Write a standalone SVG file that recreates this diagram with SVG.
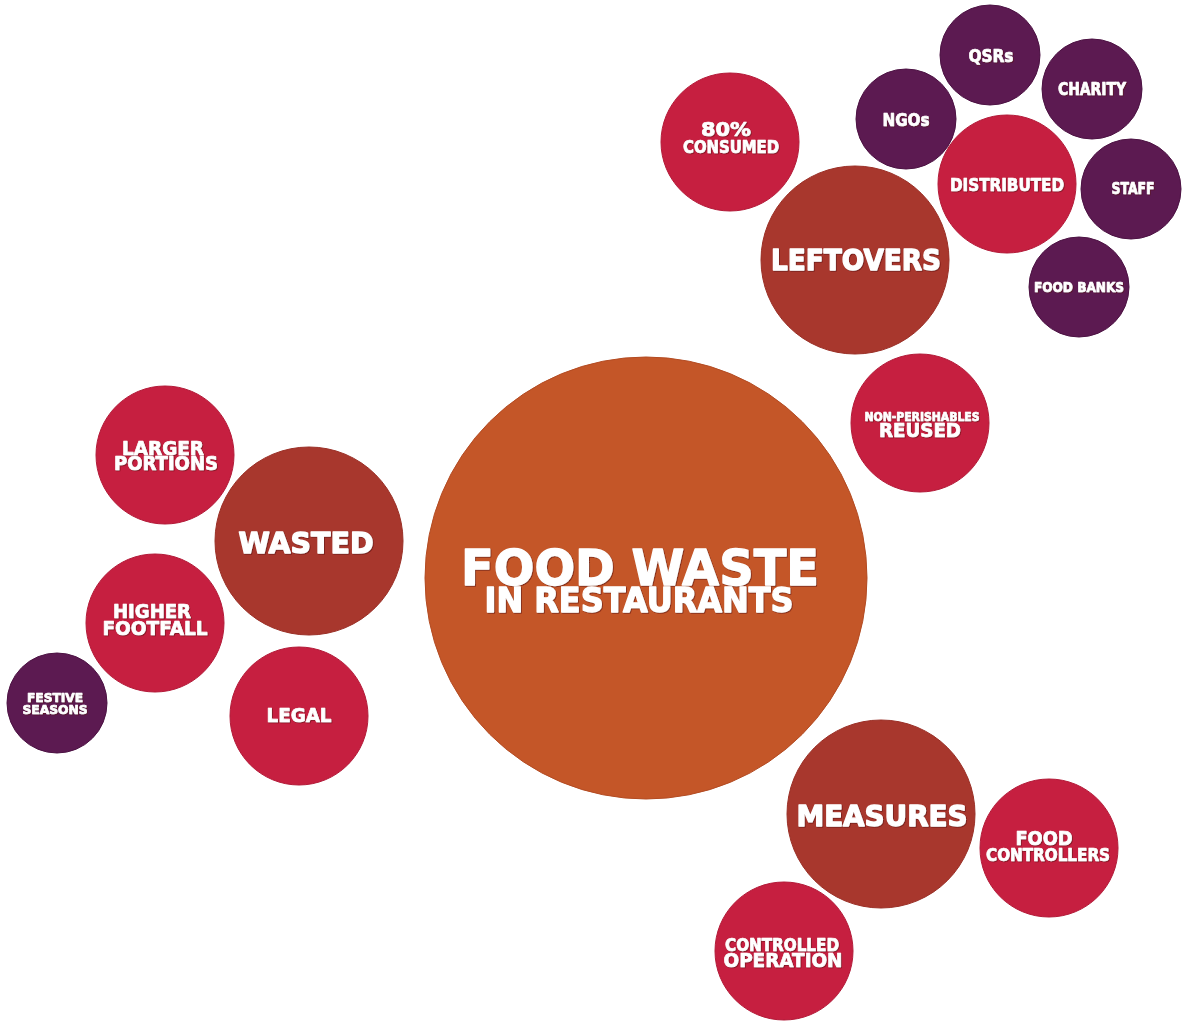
<svg xmlns="http://www.w3.org/2000/svg" width="1200" height="1028" viewBox="0 0 1200 1028">
<defs>
<filter id="sh" x="-10%" y="-30%" width="120%" height="160%">
<feDropShadow dx="0.8" dy="0.8" stdDeviation="0.4" flood-color="#5A0F10" flood-opacity="0.7"/>
</filter>
</defs>
<style>
.main{fill:#C45628;stroke:#B34B22;stroke-width:1}
.l1{fill:#A8372D;stroke:#9A2F26;stroke-width:1}
.l2{fill:#C61F40;stroke:#B31A38;stroke-width:1}
.l3{fill:#5C1A51;stroke:#4C1243;stroke-width:1}
text{font-family:"DejaVu Sans","Liberation Sans",sans-serif;font-weight:bold;fill:#FFFFFF;text-anchor:middle;stroke:#FFFFFF;stroke-width:0.7;stroke-linejoin:round;filter:url(#sh)}
.big{stroke-width:1.3}
</style>
<rect width="1200" height="1028" fill="#FFFFFF"/>
<g id="connectors"></g>
<g id="food-waste">
<circle class="main" cx="646" cy="578" r="221"/>
<text class="big"><tspan x="640" y="585" font-size="49" textLength="358" lengthAdjust="spacingAndGlyphs">FOOD WASTE</tspan><tspan x="639" y="612" font-size="33" textLength="309" lengthAdjust="spacingAndGlyphs">IN RESTAURANTS</tspan></text>
</g>
<g id="leftovers">
<circle class="l1" cx="855" cy="260" r="94"/>
<text class="big" x="856" y="270" font-size="29" textLength="170" lengthAdjust="spacingAndGlyphs">LEFTOVERS</text>
</g>
<g id="consumed">
<circle class="l2" cx="730" cy="142" r="69"/>
<text><tspan x="726" y="136" font-size="19" textLength="50" lengthAdjust="spacingAndGlyphs">80%</tspan><tspan x="731" y="153" font-size="17" textLength="96" lengthAdjust="spacingAndGlyphs">CONSUMED</tspan></text>
</g>
<g id="ngos">
<circle class="l3" cx="906" cy="119" r="50"/>
<text x="906" y="126" font-size="18" textLength="47" lengthAdjust="spacingAndGlyphs">NGOs</text>
</g>
<g id="qsrs">
<circle class="l3" cx="990" cy="55" r="50"/>
<text x="991" y="62" font-size="18" textLength="45" lengthAdjust="spacingAndGlyphs">QSRs</text>
</g>
<g id="charity">
<circle class="l3" cx="1092" cy="89" r="50"/>
<text x="1092" y="95" font-size="17" textLength="68" lengthAdjust="spacingAndGlyphs">CHARITY</text>
</g>
<g id="distributed">
<circle class="l2" cx="1007" cy="184" r="69"/>
<text x="1007" y="191" font-size="18" textLength="114" lengthAdjust="spacingAndGlyphs">DISTRIBUTED</text>
</g>
<g id="staff">
<circle class="l3" cx="1131" cy="189" r="50"/>
<text x="1133" y="194" font-size="15" textLength="43" lengthAdjust="spacingAndGlyphs">STAFF</text>
</g>
<g id="food-banks">
<circle class="l3" cx="1079" cy="287" r="50"/>
<text x="1079" y="292" font-size="14" textLength="90" lengthAdjust="spacingAndGlyphs">FOOD BANKS</text>
</g>
<g id="reused">
<circle class="l2" cx="920" cy="423" r="69"/>
<text><tspan x="922" y="421" font-size="12" textLength="115" lengthAdjust="spacingAndGlyphs">NON-PERISHABLES</tspan><tspan x="920" y="437" font-size="19" textLength="82" lengthAdjust="spacingAndGlyphs">REUSED</tspan></text>
</g>
<g id="wasted">
<circle class="l1" cx="309" cy="541" r="94"/>
<text class="big" x="306" y="553" font-size="29" textLength="135" lengthAdjust="spacingAndGlyphs">WASTED</text>
</g>
<g id="larger-portions">
<circle class="l2" cx="165" cy="455" r="69"/>
<text><tspan x="163" y="455" font-size="19" textLength="82" lengthAdjust="spacingAndGlyphs">LARGER</tspan><tspan x="166" y="470" font-size="19" textLength="104" lengthAdjust="spacingAndGlyphs">PORTIONS</tspan></text>
</g>
<g id="higher-footfall">
<circle class="l2" cx="155" cy="623" r="69"/>
<text><tspan x="152" y="618" font-size="19" textLength="78" lengthAdjust="spacingAndGlyphs">HIGHER</tspan><tspan x="155" y="635" font-size="19" textLength="105" lengthAdjust="spacingAndGlyphs">FOOTFALL</tspan></text>
</g>
<g id="festive-seasons">
<circle class="l3" cx="57" cy="703" r="50"/>
<text><tspan x="55" y="702" font-size="13" textLength="56" lengthAdjust="spacingAndGlyphs">FESTIVE</tspan><tspan x="55" y="714" font-size="13" textLength="65" lengthAdjust="spacingAndGlyphs">SEASONS</tspan></text>
</g>
<g id="legal">
<circle class="l2" cx="299" cy="716" r="69"/>
<text x="299" y="722" font-size="19" textLength="65" lengthAdjust="spacingAndGlyphs">LEGAL</text>
</g>
<g id="measures">
<circle class="l1" cx="881" cy="814" r="94"/>
<text class="big" x="882" y="826" font-size="29" textLength="171" lengthAdjust="spacingAndGlyphs">MEASURES</text>
</g>
<g id="food-controllers">
<circle class="l2" cx="1049" cy="848" r="69"/>
<text><tspan x="1044" y="845" font-size="19" textLength="57" lengthAdjust="spacingAndGlyphs">FOOD</tspan><tspan x="1048" y="861" font-size="17" textLength="124" lengthAdjust="spacingAndGlyphs">CONTROLLERS</tspan></text>
</g>
<g id="controlled-operation">
<circle class="l2" cx="784" cy="951" r="69"/>
<text><tspan x="782" y="951" font-size="17" textLength="114" lengthAdjust="spacingAndGlyphs">CONTROLLED</tspan><tspan x="783" y="967" font-size="19" textLength="119" lengthAdjust="spacingAndGlyphs">OPERATION</tspan></text>
</g>
</svg>
